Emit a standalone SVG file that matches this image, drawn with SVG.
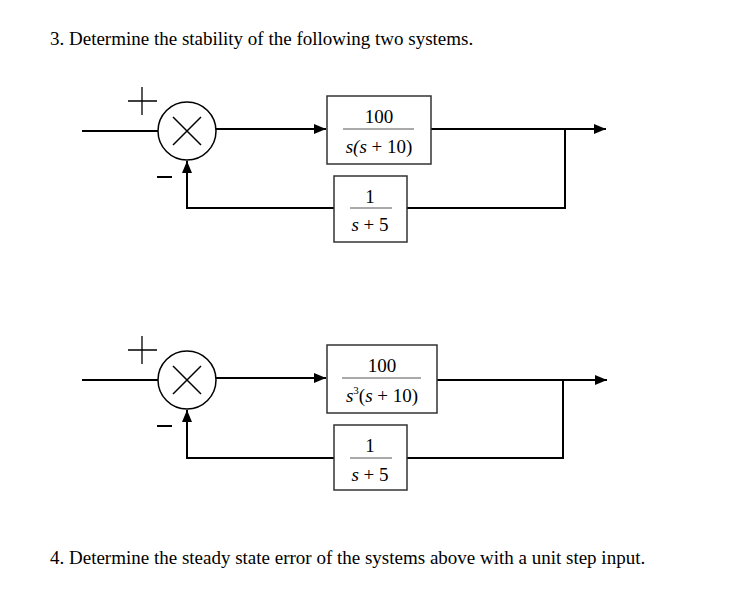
<svg xmlns="http://www.w3.org/2000/svg" width="741" height="608" viewBox="0 0 741 608">
<defs>
<style>
.t{font-family:"Liberation Serif",serif;font-size:19px;fill:#000}
.m{font-family:"Liberation Serif",serif;font-size:19px;fill:#000;text-anchor:middle}
.l{stroke:#000;stroke-width:2;fill:none}
.b{stroke:#333;stroke-width:1.5;fill:#fff}
.f{stroke:#555;stroke-width:1}
</style>
<marker id="a" markerWidth="12" markerHeight="10" refX="12" refY="5" orient="auto" markerUnits="userSpaceOnUse"><path d="M0,0 L12,5 L0,10 z" fill="#000"/></marker>
</defs>
<rect width="741" height="608" fill="#fff"/>
<text class="t" x="50" y="45">3. Determine the stability of the following two systems.</text>
<text class="t" x="50" y="564">4. Determine the steady state error of the systems above with a unit step input.</text>
<g id="connectors">
<path class="l" d="M82,131 H158"/>
<path class="l" d="M216,129 H326" marker-end="url(#a)" stroke-width="1.5"/>
<path class="l" d="M431,129 H606" marker-end="url(#a)" stroke-width="1.5"/>
<path class="l" d="M565,129 V208 H407"/>
<path class="l" d="M334,208 H187 V161" marker-end="url(#a)"/>
<path class="l" d="M82,380 H158"/>
<path class="l" d="M216,378 H326" marker-end="url(#a)" stroke-width="1.5"/>
<path class="l" d="M437,380 H607" marker-end="url(#a)" stroke-width="1.5"/>
<path class="l" d="M563,380 V458 H407"/>
<path class="l" d="M334,458 H187 V410" marker-end="url(#a)"/>
</g>
<g id="sum1">
<circle cx="187" cy="131" r="29" fill="#fff" stroke="#000" stroke-width="1.5"/>
<path d="M173,117 L201,145 M201,117 L173,145" stroke="#000" stroke-width="1.5"/>
<path d="M128,101 H157 M142,87 V115" stroke="#000" stroke-width="1.3"/>
<path d="M157,177 H172" stroke="#000" stroke-width="2"/>
</g>
<g id="G1">
<rect class="b" x="327" y="96" width="104" height="68"/>
<text class="m" x="379" y="123">100</text>
<line class="f" x1="343" y1="129" x2="414" y2="129"/>
<text class="m" x="379" y="153" font-style="italic">s(s<tspan font-style="normal"> + 10)</tspan></text>
</g>
<g id="H1">
<rect class="b" x="334" y="176" width="73" height="66"/>
<text class="m" x="370" y="203">1</text>
<line class="f" x1="350" y1="208" x2="392" y2="208"/>
<text class="m" x="370" y="231"><tspan font-style="italic">s</tspan> + 5</text>
</g>
<g id="sum2">
<circle cx="187" cy="380" r="29" fill="#fff" stroke="#000" stroke-width="1.5"/>
<path d="M173,366 L201,394 M201,366 L173,394" stroke="#000" stroke-width="1.5"/>
<path d="M128,350 H157 M142,336 V364" stroke="#000" stroke-width="1.3"/>
<path d="M157,426 H172" stroke="#000" stroke-width="2"/>
</g>
<g id="G2">
<rect class="b" x="327" y="345" width="110" height="68"/>
<text class="m" x="382" y="372">100</text>
<line class="f" x1="342" y1="378" x2="421" y2="378"/>
<text class="m" x="382" y="402"><tspan font-style="italic">s</tspan><tspan font-size="11" dy="-8">3</tspan><tspan dy="8">(</tspan><tspan font-style="italic">s</tspan> + 10)</text>
</g>
<g id="H2">
<rect class="b" x="334" y="425" width="73" height="65"/>
<text class="m" x="370" y="452">1</text>
<line class="f" x1="350" y1="458" x2="392" y2="458"/>
<text class="m" x="370" y="481"><tspan font-style="italic">s</tspan> + 5</text>
</g>
</svg>
